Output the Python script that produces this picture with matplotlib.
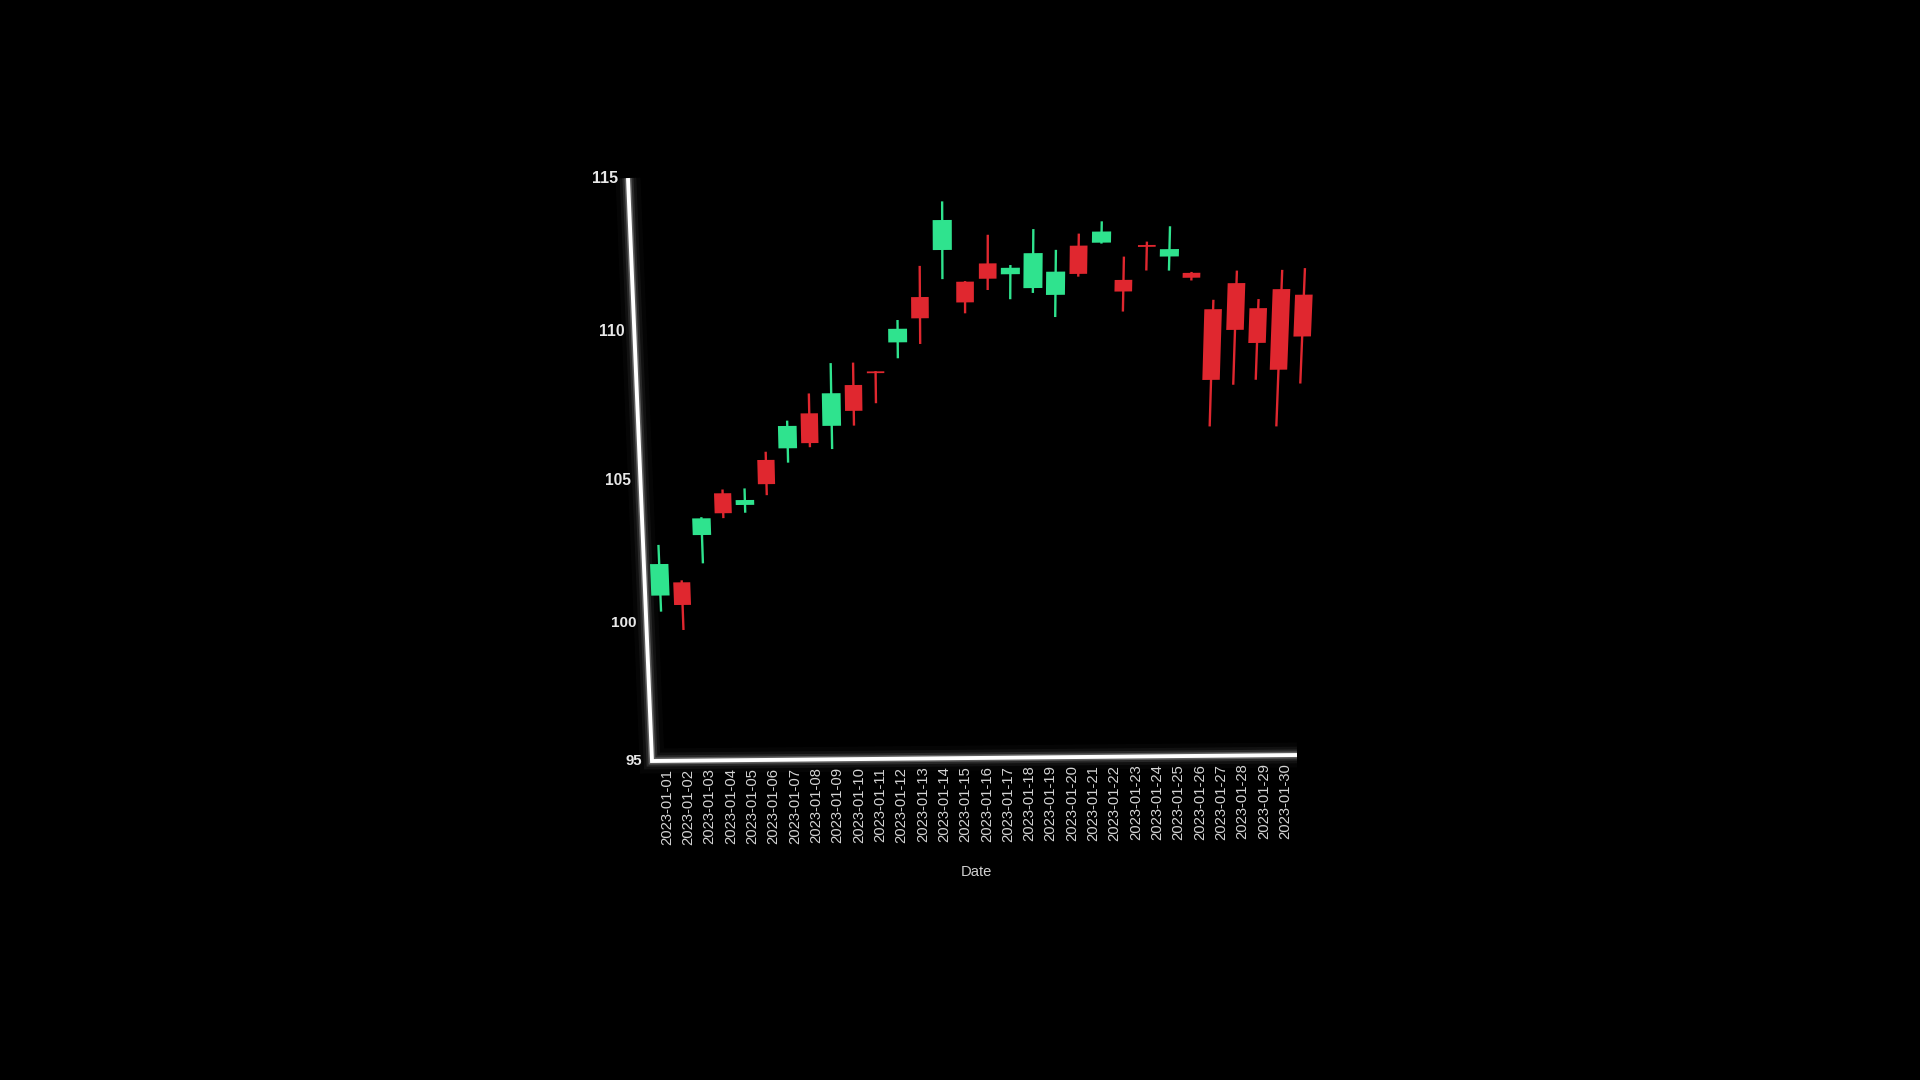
import numpy as np
import matplotlib
matplotlib.use("Agg")
import matplotlib.pyplot as plt
from matplotlib.transforms import Transform, ScaledTranslation

# ---------------- data ----------------
dates = ["2023-01-01", "2023-01-02", "2023-01-03", "2023-01-04", "2023-01-05",
         "2023-01-06", "2023-01-07", "2023-01-08", "2023-01-09", "2023-01-10",
         "2023-01-11", "2023-01-12", "2023-01-13", "2023-01-14", "2023-01-15",
         "2023-01-16", "2023-01-17", "2023-01-18", "2023-01-19", "2023-01-20",
         "2023-01-21", "2023-01-22", "2023-01-23", "2023-01-24", "2023-01-25",
         "2023-01-26", "2023-01-27", "2023-01-28", "2023-01-29", "2023-01-30"]
opens = [100.97, 101.43, 103.08, 104.52, 104.11, 105.65, 106.04, 107.22, 106.79, 108.16,
         108.60, 109.57, 111.06, 112.59, 111.55, 112.14, 111.78, 111.32, 111.09, 112.69,
         112.78, 111.56, 112.68, 112.31, 111.77, 110.57, 111.42, 110.59, 111.21, 111.02]
highs = [102.75, 101.50, 103.70, 104.65, 104.68, 105.93, 106.98, 107.89, 108.90, 108.91,
         108.62, 110.31, 112.08, 114.16, 111.57, 113.07, 112.08, 113.24, 112.56, 113.08,
         113.47, 112.32, 112.80, 113.29, 111.80, 110.88, 111.83, 110.89, 111.84, 111.89]
lows = [100.40, 99.74, 102.09, 103.66, 103.84, 104.44, 105.55, 106.07, 106.00, 106.79,
        107.54, 109.04, 109.51, 111.64, 110.51, 111.27, 110.96, 111.16, 110.36, 111.68,
        112.75, 110.52, 111.86, 111.85, 111.52, 106.65, 108.05, 108.21, 106.63, 108.07]
closes = [102.08, 100.63, 103.66, 103.83, 104.28, 104.82, 106.80, 106.21, 107.89, 107.29,
          108.55, 110.02, 110.36, 113.56, 110.87, 111.64, 111.99, 112.46, 111.85, 111.77,
          113.14, 111.18, 112.63, 112.55, 111.61, 108.22, 109.88, 109.44, 108.54, 109.64]
y_ticks = [95, 100, 105, 110, 115]

UP = "#2fe38e"
DOWN = "#e0272f"

# ---------------- perspective plane (axes fraction -> figure fraction) ----------------
W, H = 1920, 1080
G = -0.06988
X0, XU, XV = 652.0, 645.0, -67.9
Y0, YU, YV = 761.0, -6.0, -595.4


class PlanePerspective(Transform):
    input_dims = 2
    output_dims = 2
    is_separable = False

    def transform_non_affine(self, values):
        values = np.asarray(values, dtype=float).reshape(-1, 2)
        u = values[:, 0]
        v = values[:, 1]
        w = 1.0 + G * v
        px = (X0 + XU * u + XV * v) / w
        py = (Y0 + YU * u + YV * v) / w
        return np.column_stack([px / W, 1.0 - py / H])


fig = plt.figure(figsize=(19.2, 10.8), dpi=100, facecolor="black")
ax = fig.add_axes([0, 0, 1, 1])
ax.axis("off")
ax.set_xlim(-0.7, 29.55)
ax.set_ylim(95, 115)
ax.set_autoscale_on(False)

persp = PlanePerspective()
ax_trans = persp + fig.transFigure
data_trans = ax.transScale + ax.transLimits + persp + fig.transFigure

# ---------------- axis lines with glow ----------------
for lw, alpha in [(18, 0.025), (12, 0.05), (8, 0.10), (5, 0.25)]:
    ax.plot([0, 0, 1], [1, 0, 0], transform=ax_trans, color="white", lw=lw,
            alpha=alpha, solid_joinstyle="miter", solid_capstyle="butt", zorder=1)
ax.plot([0, 0, 1], [1, 0, 0], transform=ax_trans, color="white", lw=2.8,
        solid_joinstyle="miter", solid_capstyle="butt", zorder=2)

# ---------------- candles ----------------
x = np.arange(len(dates))
o = np.array(opens)
c = np.array(closes)
hi = np.array(highs)
lo = np.array(lows)
up = c >= o
colors = np.where(up, UP, DOWN)

ax.vlines(x, lo, hi, colors=colors, linewidth=1.7, transform=data_trans, zorder=3)
bottoms = np.minimum(o, c)
heights = np.maximum(np.abs(c - o), 0.06)
ax.bar(x[up], heights[up], bottom=bottoms[up], width=0.84, color=UP,
       linewidth=0, transform=data_trans, zorder=4)
ax.bar(x[~up], heights[~up], bottom=bottoms[~up], width=0.78, color=DOWN,
       linewidth=0, transform=data_trans, zorder=4)

# ---------------- tick labels ----------------
xlab_trans = data_trans + ScaledTranslation(0, -0.08, fig.dpi_scale_trans)
for xi, d in zip(x, dates):
    ax.text(xi, 95, d, transform=xlab_trans, rotation=90, ha="center", va="top",
            fontsize=10.6, color="#d4d4d4", family=["Liberation Sans", "DejaVu Sans"])

ylab_trans = data_trans + ScaledTranslation(-0.10, 0, fig.dpi_scale_trans)
for yv in y_ticks:
    v = (yv - 95) / 20.0
    ax.text(-0.7, yv, str(yv), transform=ylab_trans, ha="right", va="center",
            fontsize=10.8 / (1 + G * v), fontweight="bold", color="#e8e8e8",
            family=["Liberation Sans", "DejaVu Sans"])

fig.text(976 / W, 1 - 872 / H, "Date", ha="center", va="center", fontsize=10.6,
         color="#d0d0d0", family=["Liberation Sans", "DejaVu Sans"])

fig.savefig("out.png", dpi=100, facecolor="black")
